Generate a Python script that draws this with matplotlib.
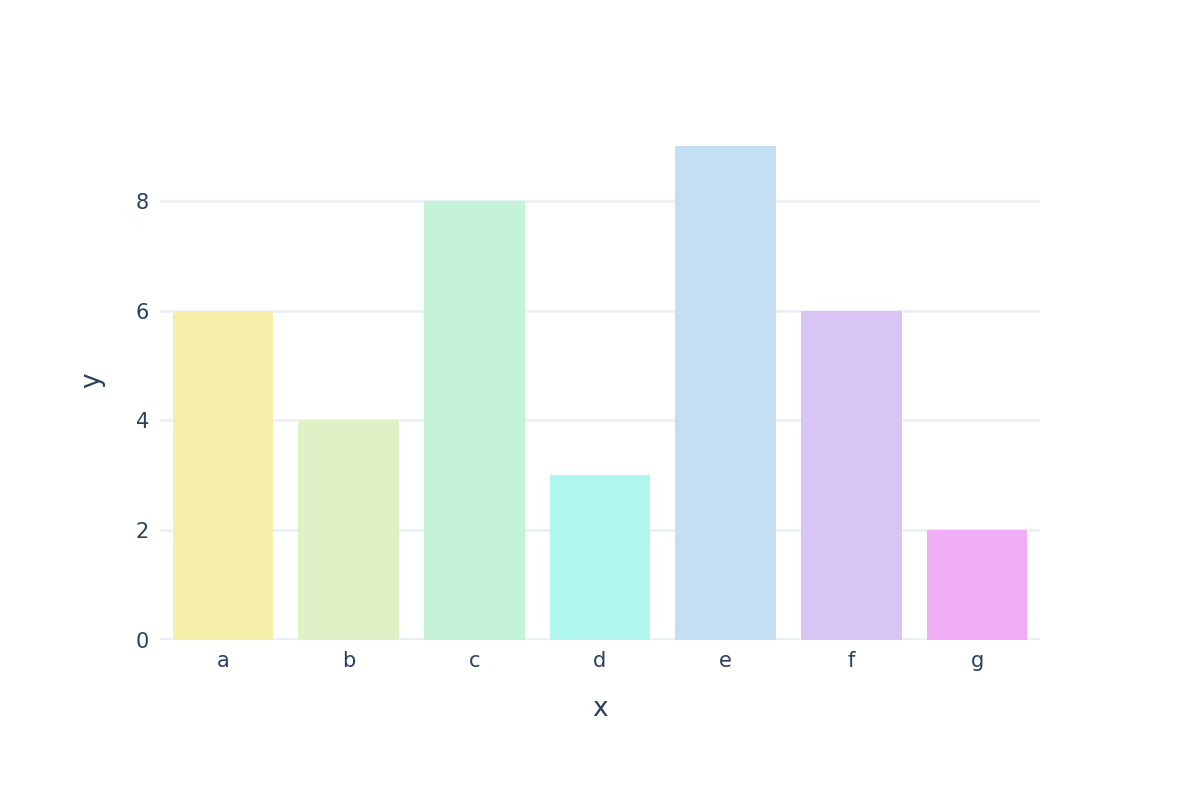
import matplotlib.pyplot as plt

categories = ['a', 'b', 'c', 'd', 'e', 'f', 'g']
values = [6, 4, 8, 3, 9, 6, 2]
colors = ['#F6EFAA', '#DFF2C5', '#C5F3DA', '#AEF6EE', '#C4DEF3', '#D9C5F3', '#EFADF6']

txt = '#2a3f5f'
fig = plt.figure(figsize=(12, 8), dpi=100)
ax = fig.add_axes([160 / 1200, 160 / 800, 880 / 1200, 520 / 800])

ax.bar(range(len(categories)), values, width=0.8, color=colors, zorder=3)
ax.set_xlim(-0.5, len(categories) - 0.5)
ax.set_ylim(0, 9.47)
ax.set_xticks(range(len(categories)))
ax.set_xticklabels(categories)
ax.set_yticks([0, 2, 4, 6, 8])
ax.grid(axis='y', color='#ebf0f8', linewidth=2, zorder=0)
ax.axhline(0, color='#ebf0f8', linewidth=3, zorder=2)
for s in ax.spines.values():
    s.set_visible(False)
ax.tick_params(length=0, labelsize=15, labelcolor=txt, pad=8)
ax.set_xlabel('x', fontsize=19, color=txt, labelpad=18)
ax.set_ylabel('y', fontsize=19, color=txt, labelpad=22)

fig.savefig('out.png', dpi=100)
